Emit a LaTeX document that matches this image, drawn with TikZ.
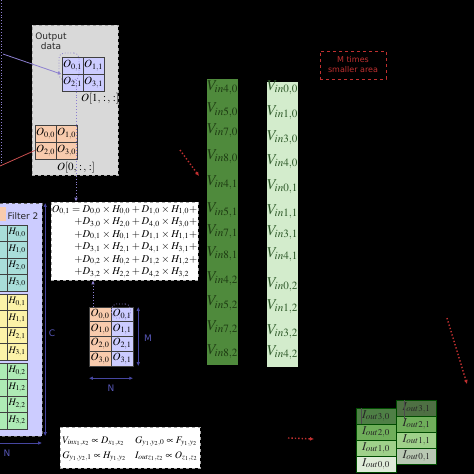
\documentclass[tikz,border=0pt]{standalone}
\usepackage{mathptmx}
\usepackage{fontspec}
\setmainfont{Liberation Serif}
\setsansfont{DejaVu Sans}
\usetikzlibrary{arrows.meta}
\definecolor{lavfill}{HTML}{CCCCFF}
\definecolor{pinkfill}{HTML}{F8CBAD}
\definecolor{grayfill}{HTML}{D9D9D9}
\definecolor{tealfill}{HTML}{A9DEDA}
\definecolor{yelfill}{HTML}{FCF3A8}
\definecolor{grnfill}{HTML}{AEEBB5}
\definecolor{vdark}{HTML}{4F8A3C}
\definecolor{vlight}{HTML}{D3ECCC}
\definecolor{vtextd}{HTML}{1D3B12}
\definecolor{vtextl}{HTML}{2F5A2A}
\definecolor{arrred}{HTML}{C03030}
\definecolor{dimblue}{HTML}{4646A0}
\definecolor{dimtext}{HTML}{5858B8}
\definecolor{lavline}{HTML}{8C7FD0}
\definecolor{iout3}{HTML}{4E7F45}
\definecolor{iout2}{HTML}{6FAE5A}
\definecolor{iout1}{HTML}{9FD18A}
\definecolor{iout0}{HTML}{DFECD9}
\definecolor{jout3}{HTML}{4E7043}
\definecolor{jout0}{HTML}{B9C8B3}
\tikzset{every node/.style={inner sep=0pt,align=center}}
\tikzset{cell/.style={rectangle,draw=black!75,line width=0.5pt,minimum width=21pt,minimum height=17pt,font=\fontsize{11}{11}\selectfont}}
\tikzset{oa/.style={cell,fill=pinkfill}}
\tikzset{ob/.style={cell,fill=lavfill}}
\tikzset{oc/.style={cell,minimum width=22pt,minimum height=14.75pt}}
\tikzset{hc/.style={cell,minimum width=20pt,minimum height=16.5pt,font=\fontsize{10}{10}\selectfont}}
\tikzset{vd/.style={font=\fontsize{15}{15}\selectfont,text=vtextd}}
\tikzset{vl/.style={font=\fontsize{15}{15}\selectfont,text=vtextl}}
\tikzset{io/.style={cell,minimum width=40pt,minimum height=16pt,draw=black!70!green,text=black!85,font=\fontsize{12}{12}\selectfont}}
\tikzset{panel/.style={rectangle,draw=gray!70,dashed,line width=0.6pt}}
\tikzset{selbox/.style={rectangle,draw=lavline,dotted,line width=0.8pt,rounded corners=5pt}}
\tikzset{dim/.style={draw=dimblue,line width=0.8pt,{Latex[length=4pt,width=3.5pt]}-{Latex[length=4pt,width=3.5pt]}}}
\tikzset{lbl/.style={font=\sffamily\fontsize{9}{10.5}\selectfont,text=dimtext}}
\tikzset{dotred/.style={draw=arrred,dotted,line width=1.4pt,-{Latex[length=4pt,width=4pt]}}}
\tikzset{dotlav/.style={draw=lavline,dotted,line width=0.9pt}}
\begin{document}
\begin{tikzpicture}[x=1pt,y=-1pt]
\fill[black] (0,0) rectangle (474,474);
\useasboundingbox (0,0) rectangle (474,474);
\clip (0,0) rectangle (474,474);

% output data
\node[panel,fill=grayfill,minimum width=86pt,minimum height=150pt](outbox) at (75,100) {};
\node[font=\sffamily\fontsize{9}{10.5}\selectfont,text=black!85](outtxt) at (51,41) {Output\\data};
\node[ob](b01) at (72.5,65.5) {$O_{0,1}$};
\node[ob](b11) at (93.5,65.5) {$O_{1,1}$};
\node[ob](b21) at (72.5,82.5) {$O_{2,1}$};
\node[ob](b31) at (93.5,82.5) {$O_{3,1}$};
\node[selbox,minimum width=20pt,minimum height=27pt](sel1) at (69,66.5) {};
\node[font=\fontsize{11}{11}\selectfont](o1) at (100,99) {$O[1,\,:\,,\,:]$};
\node[oa](r00) at (45.5,133.5) {$O_{0,0}$};
\node[oa](r10) at (66.5,133.5) {$O_{1,0}$};
\node[oa](r20) at (45.5,150.5) {$O_{2,0}$};
\node[oa](r30) at (66.5,150.5) {$O_{3,0}$};
\node[font=\fontsize{11}{11}\selectfont](o0) at (76,168) {$O[0,\,:\,,\,:]$};

% left edge
\coordinate (la) at (1.5,0);
\coordinate (lb) at (1.5,168);
\draw[dotlav] (la) -- (lb);
\coordinate (pa) at (3,54);
\draw[draw=lavline,line width=0.8pt,-{Latex[length=4pt,width=3.5pt]}] (pa) -- (b01.south west);
\coordinate (ra) at (0,166);
\draw[draw=arrred!85!white,line width=0.8pt] (ra) -- (r20.west);

% equation
\node[panel,fill=white,minimum width=147pt,minimum height=78pt,font=\fontsize{10.5}{12.5}\selectfont](eq) at (124.5,241) {$\medmuskip=3mu\begin{array}{@{}r@{}l@{}}
O_{0,1}={}& D_{0,0}\times H_{0,0}+D_{1,0}\times H_{1,0}+\\
& \llap{$+$}D_{3,0}\times H_{2,0}+D_{4,0}\times H_{3,0}+\\
& \llap{$+$}D_{0,1}\times H_{0,1}+D_{1,1}\times H_{1,1}+\\
& \llap{$+$}D_{3,1}\times H_{2,1}+D_{4,1}\times H_{3,1}+\\
& \llap{$+$}D_{0,2}\times H_{0,2}+D_{1,2}\times H_{1,2}+\\
& \llap{$+$}D_{3,2}\times H_{2,2}+D_{4,2}\times H_{3,2}
\end{array}$};
\coordinate (d1) at (76,80);
\draw[dotlav,-{Latex[length=4pt,width=3.5pt]}] (d1) -- (d1 |- eq.north);

% O grid
\node[oc,fill=pinkfill](p00) at (100,314.4) {$O_{0,0}$};
\node[oc,fill=lavfill](p01) at (122,314.4) {$O_{0,1}$};
\node[oc,fill=pinkfill](p10) at (100,329.1) {$O_{1,0}$};
\node[oc,fill=lavfill](p11) at (122,329.1) {$O_{1,1}$};
\node[oc,fill=pinkfill](p20) at (100,343.9) {$O_{2,0}$};
\node[oc,fill=lavfill](p21) at (122,343.9) {$O_{2,1}$};
\node[oc,fill=pinkfill](p30) at (100,358.6) {$O_{3,0}$};
\node[oc,fill=lavfill](p31) at (122,358.6) {$O_{3,1}$};
\node[selbox,minimum width=19pt,minimum height=14pt](sel2) at (121,311) {};
\coordinate (d3) at (93,307);
\draw[dotlav,-{Latex[length=4pt,width=3.5pt]}] (d3) -- (d3 |- eq.south);
\draw[dim] ([xshift=5pt]p01.north east) -- ([xshift=5pt]p31.south east);
\node[lbl](mlbl) at (148,338) {M};
\draw[dim] ([yshift=-12pt]p30.south west) -- ([yshift=-12pt]p31.south east);
\node[lbl](nlbl) at (111,388) {N};

% legend
\node[panel,fill=white,minimum width=140pt,minimum height=41pt,font=\fontsize{10}{15}\selectfont](leg) at (130,447.5) {\begin{tabular}{@{}l@{\hspace{9pt}}l@{}}
$V_{inx_1,x_2}\propto D_{x_1,x_2}$ & $G_{y_1,y_2,0}\propto F_{y_1,y_2}$\\
$G_{y_1,y_2,1}\propto H_{y_1,y_2}$ & $I_{outz_1,z_2}\propto O_{z_1,z_2}$
\end{tabular}};

% filter 2
\node[rectangle,fill=lavfill,draw=black!60,dashed,minimum width=46pt,minimum height=233pt](filt) at (19,319.5) {};
\node[rectangle,fill=pinkfill,minimum width=8pt,minimum height=14pt](f1) at (2,214) {};
\node[lbl,text=black!85](ftxt) at (23,216) {Filter 2};
\node[hc,fill=tealfill](q00) at (-3,233) {};
\node[hc,fill=tealfill](q10) at (-3,249.5) {};
\node[hc,fill=tealfill](q20) at (-3,266) {};
\node[hc,fill=tealfill](q30) at (-3,282.5) {};
\node[hc,fill=yelfill](q01) at (-3,302) {};
\node[hc,fill=yelfill](q11) at (-3,318.5) {};
\node[hc,fill=yelfill](q21) at (-3,335) {};
\node[hc,fill=yelfill](q31) at (-3,351.5) {};
\node[hc,fill=grnfill](q02) at (-3,371) {};
\node[hc,fill=grnfill](q12) at (-3,387.5) {};
\node[hc,fill=grnfill](q22) at (-3,404) {};
\node[hc,fill=grnfill](q32) at (-3,420.5) {};
\node[hc,fill=tealfill](h00) at (17,233) {$H_{0,0}$};
\node[hc,fill=tealfill](h10) at (17,249.5) {$H_{1,0}$};
\node[hc,fill=tealfill](h20) at (17,266) {$H_{2,0}$};
\node[hc,fill=tealfill](h30) at (17,282.5) {$H_{3,0}$};
\node[hc,fill=yelfill](h01) at (17,302) {$H_{0,1}$};
\node[hc,fill=yelfill](h11) at (17,318.5) {$H_{1,1}$};
\node[hc,fill=yelfill](h21) at (17,335) {$H_{2,1}$};
\node[hc,fill=yelfill](h31) at (17,351.5) {$H_{3,1}$};
\node[hc,fill=grnfill](h02) at (17,371) {$H_{0,2}$};
\node[hc,fill=grnfill](h12) at (17,387.5) {$H_{1,2}$};
\node[hc,fill=grnfill](h22) at (17,404) {$H_{2,2}$};
\node[hc,fill=grnfill](h32) at (17,420.5) {$H_{3,2}$};
\draw[dim] ([xshift=3pt]filt.north east) -- ([xshift=3pt]filt.south east);
\node[lbl](clbl) at (52,333) {C};
\coordinate (nl) at (0,443);
\draw[draw=dimblue,line width=0.8pt,-{Latex[length=4pt,width=3.5pt]}] (nl) -- (nl -| filt.east);
\node[lbl](nlbl2) at (7,453) {N};

% V columns
\node[rectangle,fill=vdark,minimum width=31pt,minimum height=286pt](vdcol) at (222.5,222) {};
\node[rectangle,fill=vlight,minimum width=31pt,minimum height=285pt](vlcol) at (282.5,224.5) {};
\node[vd](va0) at (222.5,88) {$V_{in4,0}$};
\node[vd](va1) at (222.5,110) {$V_{in5,0}$};
\node[vd](va2) at (222.5,131) {$V_{in7,0}$};
\node[vd](va3) at (222.5,157) {$V_{in8,0}$};
\node[vd](va4) at (222.5,183) {$V_{in4,1}$};
\node[vd](va5) at (222.5,210) {$V_{in5,1}$};
\node[vd](va6) at (222.5,232) {$V_{in7,1}$};
\node[vd](va7) at (222.5,254) {$V_{in8,1}$};
\node[vd](va8) at (222.5,279) {$V_{in4,2}$};
\node[vd](va9) at (222.5,303) {$V_{in5,2}$};
\node[vd](va10) at (222.5,328) {$V_{in7,2}$};
\node[vd](va11) at (222.5,352) {$V_{in8,2}$};
\node[vl](vb0) at (282.5,88) {$V_{in0,0}$};
\node[vl](vb1) at (282.5,113) {$V_{in1,0}$};
\node[vl](vb2) at (282.5,138) {$V_{in3,0}$};
\node[vl](vb3) at (282.5,162) {$V_{in4,0}$};
\node[vl](vb4) at (282.5,187) {$V_{in0,1}$};
\node[vl](vb5) at (282.5,212) {$V_{in1,1}$};
\node[vl](vb6) at (282.5,233) {$V_{in3,1}$};
\node[vl](vb7) at (282.5,255) {$V_{in4,1}$};
\node[vl](vb8) at (282.5,285) {$V_{in0,2}$};
\node[vl](vb9) at (282.5,307) {$V_{in1,2}$};
\node[vl](vb10) at (282.5,332) {$V_{in3,2}$};
\node[vl](vb11) at (282.5,353) {$V_{in4,2}$};

% red notes
\node[rectangle,draw=arrred,dashed,line width=0.6pt,minimum width=66pt,minimum height=28pt,text=arrred,font=\sffamily\fontsize{8}{10}\selectfont](mbox) at (353,65) {M times\\smaller area};
\coordinate (r1a) at (180,150);
\coordinate (r1b) at (199,176);
\draw[dotred] (r1a) -- (r1b);
\coordinate (r2a) at (447,318);
\coordinate (r2b) at (467,384);
\draw[dotred] (r2a) -- (r2b);
\coordinate (r3a) at (288,438);
\coordinate (r3b) at (314,439);
\draw[dotred] (r3a) -- (r3b);

% I out
\node[io,fill=iout3](i30) at (376,416) {$I_{out3,0}$};
\node[io,fill=iout2](i20) at (376,432) {$I_{out2,0}$};
\node[io,fill=iout1](i10) at (376,448) {$I_{out1,0}$};
\node[io,fill=iout0](i00) at (376,464) {$I_{out0,0}$};
\node[io,fill=jout3](j31) at (416.5,408) {$I_{out3,1}$};
\node[io,fill=iout2](j21) at (416.5,424) {$I_{out2,1}$};
\node[io,fill=iout1](j11) at (416.5,440) {$I_{out1,1}$};
\node[io,fill=jout0](j01) at (416.5,456) {$I_{out0,1}$};
\draw[black!70,line width=0.5pt] ([xshift=5pt]i30.north west) -- ([xshift=5pt]i30.south west);
\draw[black!70,line width=0.5pt] ([xshift=8pt]j31.north west) -- ([xshift=8pt,yshift=-3pt]j31.south west);
\end{tikzpicture}
\end{document}
